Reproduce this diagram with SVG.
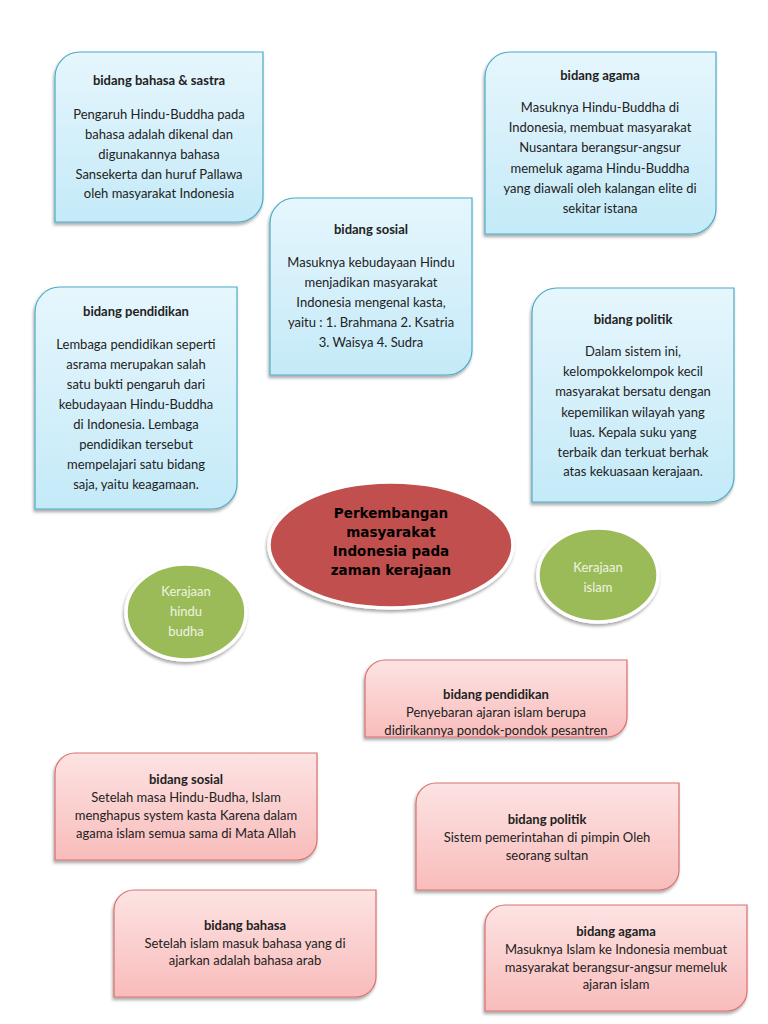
<svg xmlns="http://www.w3.org/2000/svg" width="768" height="1024" viewBox="0 0 768 1024">
<style>
.bb{fill:url(#gBlue);stroke:#4bacc6;stroke-width:1.2;filter:url(#sh)}
.pb{fill:url(#gPink);stroke:#d9706e;stroke-width:1.2;filter:url(#sh)}
text{font-family:Lato,"Open Sans",sans-serif;font-size:13px;fill:#222;text-anchor:middle}
.t{font-weight:bold}
.el{font-family:"DejaVu Sans",Verdana,sans-serif;font-weight:bold;font-size:13.5px;fill:#000}
.gt{fill:#eef4e2;font-size:13px}
</style>
<defs>
<linearGradient id="gBlue" x1="0" y1="0" x2="0" y2="1"><stop offset="0" stop-color="#e6f6fd"/><stop offset="1" stop-color="#c4eaf8"/></linearGradient>
<linearGradient id="gPink" x1="0" y1="0" x2="0" y2="1"><stop offset="0" stop-color="#fde3e3"/><stop offset="1" stop-color="#f8bcbb"/></linearGradient>
<filter id="sh" x="-10%" y="-10%" width="125%" height="125%"><feDropShadow dx="-1" dy="2.5" stdDeviation="1.5" flood-color="#000" flood-opacity="0.35"/></filter>
<clipPath id="elc"><rect x="290" y="495" width="200" height="93"/></clipPath>
</defs>

<g id="blue-bahasa">
<path class="bb" d="M80,52 H263 V197 A25,25 0 0 1 238,222 H55 V77 A25,25 0 0 1 80,52 Z"/>
<text class="t" x="159" y="85">bidang bahasa &amp; sastra</text>
<text x="159" y="119">Pengaruh Hindu-Buddha pada</text>
<text x="159" y="139">bahasa adalah dikenal dan</text>
<text x="159" y="159">digunakannya bahasa</text>
<text x="159" y="179">Sansekerta dan huruf Pallawa</text>
<text x="159" y="198">oleh masyarakat Indonesia</text>
</g>

<g id="blue-agama">
<path class="bb" d="M510,52 H716 V209 A25,25 0 0 1 691,234 H485 V77 A25,25 0 0 1 510,52 Z"/>
<text class="t" x="600" y="80">bidang agama</text>
<text x="600" y="112">Masuknya Hindu-Buddha di</text>
<text x="600" y="132">Indonesia, membuat masyarakat</text>
<text x="600" y="152">Nusantara berangsur-angsur</text>
<text x="600" y="173">memeluk agama Hindu-Buddha</text>
<text x="600" y="193">yang diawali oleh kalangan elite di</text>
<text x="600" y="213">sekitar istana</text>
</g>

<g id="blue-sosial">
<path class="bb" d="M295,198 H472 V350 A25,25 0 0 1 447,375 H270 V223 A25,25 0 0 1 295,198 Z"/>
<text class="t" x="371" y="234">bidang sosial</text>
<text x="371" y="267">Masuknya kebudayaan Hindu</text>
<text x="371" y="287">menjadikan masyarakat</text>
<text x="371" y="307">Indonesia mengenal kasta,</text>
<text x="371" y="327">yaitu : 1. Brahmana 2. Ksatria</text>
<text x="371" y="347">3. Waisya 4. Sudra</text>
</g>

<g id="blue-pendidikan">
<path class="bb" d="M60,287 H237 V484 A25,25 0 0 1 212,509 H35 V312 A25,25 0 0 1 60,287 Z"/>
<text class="t" x="136" y="316">bidang pendidikan</text>
<text x="136" y="349">Lembaga pendidikan seperti</text>
<text x="136" y="369">asrama merupakan salah</text>
<text x="136" y="389">satu bukti pengaruh dari</text>
<text x="136" y="409">kebudayaan Hindu-Buddha</text>
<text x="136" y="429">di Indonesia. Lembaga</text>
<text x="136" y="449">pendidikan tersebut</text>
<text x="136" y="469">mempelajari satu bidang</text>
<text x="136" y="489">saja, yaitu keagamaan.</text>
</g>

<g id="blue-politik">
<path class="bb" d="M557,288 H734 V477 A25,25 0 0 1 709,502 H532 V313 A25,25 0 0 1 557,288 Z"/>
<text class="t" x="633" y="324">bidang politik</text>
<text x="633" y="356">Dalam sistem ini,</text>
<text x="633" y="376">kelompokkelompok kecil</text>
<text x="633" y="396">masyarakat bersatu dengan</text>
<text x="633" y="417">kepemilikan wilayah yang</text>
<text x="633" y="437">luas. Kepala suku yang</text>
<text x="633" y="457">terbaik dan terkuat berhak</text>
<text x="633" y="476">atas kekuasaan kerajaan.</text>
</g>

<g id="center-ellipse">
<ellipse cx="391" cy="545" rx="122" ry="63" fill="#c0504d" stroke="#fff" stroke-width="3.5" filter="url(#sh)"/>
<g clip-path="url(#elc)">
<text class="el" x="391" y="518">Perkembangan</text>
<text class="el" x="391" y="537">masyarakat</text>
<text class="el" x="391" y="556">Indonesia pada</text>
<text class="el" x="391" y="575">zaman kerajaan</text>
</g>
</g>

<g id="green-hindu">
<ellipse cx="186" cy="612" rx="60" ry="48" fill="#9bbb59" stroke="#fff" stroke-width="3.5" filter="url(#sh)"/>
<text class="gt" x="186" y="596">Kerajaan</text>
<text class="gt" x="186" y="616">hindu</text>
<text class="gt" x="186" y="636">budha</text>
</g>

<g id="green-islam">
<ellipse cx="598" cy="575" rx="60" ry="47" fill="#9bbb59" stroke="#fff" stroke-width="3.5" filter="url(#sh)"/>
<text class="gt" x="598" y="572">Kerajaan</text>
<text class="gt" x="598" y="592">islam</text>
</g>

<g id="pink-pendidikan">
<path class="pb" d="M385,660 H627 V717 A20,20 0 0 1 607,737 H365 V680 A20,20 0 0 1 385,660 Z"/>
<text class="t" x="496" y="699">bidang pendidikan</text>
<text x="496" y="717">Penyebaran ajaran islam berupa</text>
<text x="496" y="735">didirikannya pondok-pondok pesantren</text>
</g>

<g id="pink-sosial">
<path class="pb" d="M75,753 H317 V840 A20,20 0 0 1 297,860 H55 V773 A20,20 0 0 1 75,753 Z"/>
<text class="t" x="186" y="784">bidang sosial</text>
<text x="186" y="802">Setelah masa Hindu-Budha, Islam</text>
<text x="186" y="820">menghapus system kasta Karena dalam</text>
<text x="186" y="838">agama islam semua sama di Mata Allah</text>
</g>

<g id="pink-politik">
<path class="pb" d="M436,783 H679 V870 A20,20 0 0 1 659,890 H416 V803 A20,20 0 0 1 436,783 Z"/>
<text class="t" x="547" y="824">bidang politik</text>
<text x="547" y="842">Sistem pemerintahan di pimpin Oleh</text>
<text x="547" y="860">seorang sultan</text>
</g>

<g id="pink-bahasa">
<path class="pb" d="M134,890 H376 V977 A20,20 0 0 1 356,997 H114 V910 A20,20 0 0 1 134,890 Z"/>
<text class="t" x="245" y="930">bidang bahasa</text>
<text x="245" y="948">Setelah islam masuk bahasa yang di</text>
<text x="245" y="965">ajarkan adalah bahasa arab</text>
</g>

<g id="pink-agama">
<path class="pb" d="M505,905 H747 V991 A20,20 0 0 1 727,1011 H485 V925 A20,20 0 0 1 505,905 Z"/>
<text class="t" x="616" y="936">bidang agama</text>
<text x="616" y="954">Masuknya Islam ke Indonesia membuat</text>
<text x="616" y="972">masyarakat berangsur-angsur memeluk</text>
<text x="616" y="989">ajaran islam</text>
</g>

<g id="connectors"></g>
</svg>
